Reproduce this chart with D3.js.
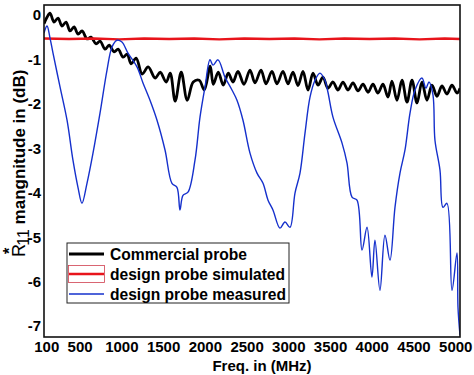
<!DOCTYPE html>
<html>
<head>
<meta charset="utf-8">
<script src="https://cdn.jsdelivr.net/npm/d3@7"></script>
<style>
  body { margin: 0; background: #fff; }
  text { font-family: "Liberation Sans", Arial, sans-serif; font-weight: bold; fill: #000; }
</style>
</head>
<body>
<div id="chart"></div>
<script>
// x ticks (MHz) and y ticks (dB)
var xTicks = [100, 500, 1000, 1500, 2000, 2500, 3000, 3500, 4000, 4500, 5000];
var yTicks = [0, -1, -2, -3, -4, -5, -6, -7];

// Commercial probe
var commercialFreq = [100, 136, 172, 220, 268, 316, 364, 412, 460, 508, 556, 616, 664, 724, 772, 832, 880, 940, 988, 1048,
  1096, 1144, 1204, 1276, 1348, 1432, 1492, 1564, 1612, 1672, 1744, 1816, 1888, 1960, 2020, 2092, 2128, 2188, 2248, 2308,
  2364, 2424, 2496, 2568, 2628, 2700, 2760, 2831, 2891, 2963, 3023, 3083, 3143, 3203, 3263, 3323, 3383, 3442, 3502, 3562,
  3622, 3682, 3742, 3802, 3862, 3922, 3982, 4041, 4101, 4161, 4221, 4269, 4329, 4389, 4449, 4509, 4569, 4628, 4688, 4748,
  4808, 4868, 4928, 4988, 5048, 5084];
var commercialDb = [-0.21, -0.06, 0.03, -0.17, -0.08, -0.26, -0.17, -0.37, -0.28, -0.44, -0.37, -0.55, -0.51, -0.66, -0.60, -0.78, -0.69, -0.84, -0.78, -0.96,
  -0.89, -1.11, -0.98, -1.34, -1.18, -1.43, -1.30, -1.52, -1.32, -1.95, -1.30, -1.93, -1.52, -1.48, -1.70, -1.16, -1.57, -1.30, -1.59, -1.32,
  -1.52, -1.28, -1.57, -1.25, -1.54, -1.25, -1.56, -1.28, -1.56, -1.28, -1.56, -1.30, -1.60, -1.28, -1.70, -1.32, -1.59, -1.41, -1.66, -1.52,
  -1.70, -1.52, -1.70, -1.54, -1.72, -1.57, -1.75, -1.57, -1.77, -1.57, -1.86, -1.50, -1.93, -1.48, -1.97, -1.48, -1.99, -1.52, -1.93, -1.59,
  -1.84, -1.61, -1.79, -1.59, -1.77, -1.66];

// design probe simulated
var simulatedFreq = [100, 400, 700, 1000, 1300, 1600, 1900, 2200, 2500, 2800, 3100, 3400, 3700, 4000, 4300, 4600, 4900, 5084];
var simulatedDb = [-0.54, -0.55, -0.54, -0.56, -0.54, -0.55, -0.54, -0.56, -0.54, -0.55, -0.54, -0.56, -0.54, -0.55, -0.54, -0.56, -0.54, -0.55];

// design probe measured
var measuredFreq = [100, 136, 172, 208, 292, 376, 447, 507, 555, 615, 687, 771, 855, 915, 975, 1034, 1106, 1214, 1286, 1370,
  1454, 1550, 1633, 1693, 1729, 1765, 1825, 1909, 1969, 2029, 2089, 2125, 2185, 2268, 2352, 2412, 2484, 2568, 2652, 2724,
  2784, 2843, 2927, 2987, 3047, 3107, 3167, 3227, 3287, 3347, 3406, 3466, 3502, 3562, 3670, 3730, 3790, 3850, 3910, 3970,
  4029, 4065, 4125, 4185, 4245, 4305, 4365, 4425, 4485, 4545, 4628, 4676, 4712, 4760, 4784, 4844, 4880, 4928, 4988, 5048,
  5060, 5084];
var measuredDb = [-0.42, -0.26, -0.53, -0.87, -1.63, -2.38, -3.28, -3.89, -4.25, -3.80, -3.12, -2.22, -1.25, -0.73, -0.58, -0.62, -0.87, -1.18, -1.54, -1.93,
  -2.38, -3.05, -3.80, -3.89, -4.40, -4.07, -4.00, -3.28, -2.31, -1.63, -1.02, -1.14, -1.02, -1.41, -1.70, -1.93, -2.38, -3.12, -3.57, -3.80,
  -4.18, -4.40, -4.81, -4.67, -4.79, -4.02, -3.57, -2.67, -1.86, -1.48, -1.32, -1.48, -1.75, -2.31, -2.89, -3.34, -4.11, -4.18, -5.30, -4.79,
  -5.91, -5.08, -6.21, -4.97, -5.53, -4.34, -3.57, -3.05, -2.22, -1.70, -1.43, -1.66, -1.52, -1.81, -2.83, -3.50, -4.34, -4.25, -6.21, -5.37,
  -6.59, -7.22];

var legendLabels = ["Commercial probe", "design probe simulated", "design probe measured"];

var width = 474, height = 375;
var margin = { left: 44, right: 14, top: 5, bottom: 38 };

var svg = d3.select("#chart").append("svg")
  .attr("width", width)
  .attr("height", height);

var x = d3.scaleLinear().domain([100, 5084]).range([margin.left, width - margin.right]);
var y = d3.scaleLinear().domain([-7.26, 0.214]).range([height - margin.bottom, margin.top]);

svg.append("clipPath").attr("id", "clip")
  .append("rect")
  .attr("x", margin.left).attr("y", margin.top)
  .attr("width", x.range()[1] - margin.left)
  .attr("height", y.range()[0] - margin.top);

function zip(fs, vs) {
  return fs.map(function (f, i) { return [f, vs[i]]; });
}

var smooth = d3.line()
  .x(function (d) { return x(d[0]); })
  .y(function (d) { return y(d[1]); })
  .curve(d3.curveCatmullRom.alpha(0.5));
var straight = d3.line()
  .x(function (d) { return x(d[0]); })
  .y(function (d) { return y(d[1]); });

var plot = svg.append("g").attr("clip-path", "url(#clip)");

var series = [
  { data: zip(commercialFreq, commercialDb), color: "#000", w: 2.8, line: smooth },
  { data: zip(simulatedFreq, simulatedDb), color: "#e8141b", w: 2.4, line: straight },
  { data: zip(measuredFreq, measuredDb), color: "#1530cc", w: 1.4, line: smooth }
];

series.forEach(function (s) {
  plot.append("path")
    .datum(s.data)
    .attr("d", s.line)
    .attr("fill", "none")
    .attr("stroke", s.color)
    .attr("stroke-width", s.w)
    .attr("stroke-linejoin", "round");
});

// axes
var yAxis = svg.append("g")
  .attr("transform", "translate(" + margin.left + ",0)")
  .call(d3.axisLeft(y).tickValues(yTicks).tickSize(0).tickPadding(3).tickFormat(function (d) { return String(d); }));
yAxis.select(".domain").remove();
yAxis.selectAll("text").style("font-size", "15px").attr("dy", "0.36em");

var xAxis = svg.append("g")
  .attr("transform", "translate(0," + (height - margin.bottom) + ")")
  .call(d3.axisBottom(x).tickValues(xTicks).tickSize(0).tickPadding(4).tickFormat(function (d) { return String(d); }));
xAxis.select(".domain").remove();
xAxis.selectAll("text").style("font-size", "15px").attr("dx", "0.15em");

// frame
svg.append("rect")
  .attr("x", margin.left).attr("y", margin.top)
  .attr("width", x.range()[1] - margin.left)
  .attr("height", y.range()[0] - margin.top)
  .attr("fill", "none")
  .attr("stroke", "#111")
  .attr("stroke-width", 1.6);

// axis titles
svg.append("text")
  .attr("x", 262).attr("y", 371)
  .attr("text-anchor", "middle")
  .style("font-size", "15px")
  .text("Freq. in (MHz)");

var ylab = svg.append("text")
  .attr("transform", "translate(25,257) rotate(-90)")
  .style("font-size", "17px");
ylab.append("tspan").style("font-size", "18px").style("font-weight", "normal").text("R");
ylab.append("tspan").attr("dy", -10).attr("dx", -10).style("font-size", "16px").text("*");
ylab.append("tspan").attr("dy", 14).attr("dx", 2).style("font-size", "16px").style("font-weight", "normal").text("11");
ylab.append("tspan").attr("dy", -4).text(" mangnitude in (dB)");

// legend
var lg = svg.append("g");
lg.append("rect")
  .attr("x", 67).attr("y", 243)
  .attr("width", 222).attr("height", 60)
  .attr("fill", "#fff")
  .attr("stroke", "#222")
  .attr("stroke-width", 1);

lg.append("rect")
  .attr("x", 68.5).attr("y", 265.5)
  .attr("width", 36).attr("height", 17)
  .attr("fill", "none")
  .attr("stroke", "#d04050")
  .attr("stroke-width", 0.8);

legendLabels.forEach(function (label, i) {
  var cy = 254 + i * 20;
  lg.append("line")
    .attr("x1", 69).attr("x2", 104)
    .attr("y1", cy).attr("y2", cy)
    .attr("stroke", series[i].color)
    .attr("stroke-width", series[i].w);
  lg.append("text")
    .attr("x", 110).attr("y", cy + 5.5)
    .style("font-size", "15.6px")
    .text(label);
});
</script>
</body>
</html>
